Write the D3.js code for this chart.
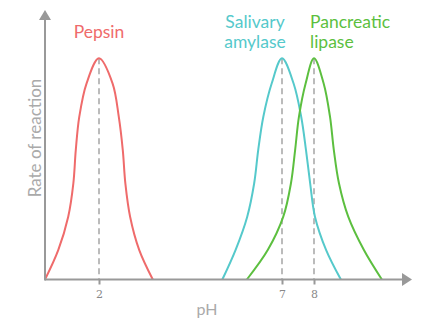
<!DOCTYPE html>
<html>
<head>
<meta charset="utf-8">
<script src="https://cdn.jsdelivr.net/npm/d3@7"></script>
<style>
  html, body { margin: 0; padding: 0; background: #ffffff; }
  svg { display: block; }
</style>
</head>
<body>
<div id="chart"></div>
<script>
// ---- data ----
const enzymes = ["Pepsin", "Salivary amylase", "Pancreatic lipase"];
const optimumPH = [2, 7, 8];
const tickLabels = ["2", "7", "8"];

// curve samples [pH, relative rate]
const pepsinCurve = [
  [0, 0], [0.49, 13.3], [0.86, 28.4], [1.05, 43.5], [1.14, 58.5], [1.27, 73.6], [1.54, 88.7], [2, 100],
  [2.37, 88.7], [2.54, 73.6], [2.65, 58.5], [2.72, 43.5], [2.85, 28.4], [3.10, 13.3], [3.47, 0]
];
const amylaseCurve = [
  [5.37, 0], [5.73, 13.3], [6.05, 28.4], [6.24, 43.5], [6.35, 58.5], [6.49, 73.6], [6.72, 88.7], [7, 100],
  [7.36, 88.7], [7.60, 73.6], [7.75, 58.5], [7.88, 43.5], [8.03, 28.4], [8.38, 13.3], [8.84, 0]
];
const lipaseCurve = [
  [6.04, 0], [6.61, 13.3], [7.04, 28.4], [7.28, 43.5], [7.41, 58.5], [7.53, 73.6], [7.74, 88.7], [8, 100],
  [8.30, 88.7], [8.50, 73.6], [8.62, 58.5], [8.78, 43.5], [9.07, 28.4], [9.56, 13.3], [10.12, 0]
];
const curves = [pepsinCurve, amylaseCurve, lipaseCurve];
const colors = ["#ef6b6b", "#55c9cb", "#5cbf3f"];

// ---- layout ----
const W = 421, H = 326;
const svg = d3.select("#chart").append("svg").attr("width", W).attr("height", H);

// schematic (non-uniform) pH axis
const x = d3.scaleLinear().domain([0, 2, 7, 8, 11]).range([45, 99, 282, 314, 410]);
const y = d3.scaleLinear().domain([0, 100]).range([279.5, 58.3]);

const axisColor = "#999999";
const font = "Lato, 'Open Sans', sans-serif";

// dashed optimum lines
svg.selectAll("line.opt").data(optimumPH).enter().append("line")
  .attr("class", "opt")
  .attr("x1", d => x(d)).attr("x2", d => x(d))
  .attr("y1", y(100)).attr("y2", y(0))
  .attr("stroke", "#bbbbbb").attr("stroke-width", 2)
  .attr("stroke-dasharray", "6,4");

// curves
const line = d3.line().x(d => x(d[0])).y(d => y(d[1])).curve(d3.curveCatmullRom.alpha(0.5));
svg.selectAll("path.curve").data(curves).enter().append("path")
  .attr("class", "curve")
  .attr("d", d => line(d))
  .attr("fill", "none")
  .attr("stroke", (d, i) => colors[i])
  .attr("stroke-width", 2);

// axes
svg.append("line").attr("x1", 45).attr("x2", 403).attr("y1", y(0)).attr("y2", y(0))
  .attr("stroke", axisColor).attr("stroke-width", 2);
svg.append("path").attr("d", `M402,${y(0) - 6.5} L412,${y(0)} L402,${y(0) + 6.5} Z`).attr("fill", axisColor);
svg.append("line").attr("x1", 45).attr("x2", 45).attr("y1", 19).attr("y2", y(0) + 1)
  .attr("stroke", axisColor).attr("stroke-width", 2);
svg.append("path").attr("d", `M39,20 L45,10 L51,20 Z`).attr("fill", axisColor);

// ticks
const xAxis = d3.axisBottom(x).tickValues(optimumPH).tickFormat((d, i) => tickLabels[i])
  .tickSize(5).tickPadding(6);
const gx = svg.append("g").attr("transform", `translate(0,${y(0)})`).call(xAxis);
gx.select(".domain").remove();
gx.selectAll(".tick line").attr("stroke", axisColor).attr("stroke-width", 2);
gx.selectAll(".tick text").attr("fill", "#888888")
  .style("font-family", "'DejaVu Serif', 'Liberation Serif', serif").style("font-size", "11px");

// axis titles
svg.append("text").attr("x", 207).attr("y", 314.5).attr("text-anchor", "middle")
  .style("font-family", font).style("font-size", "16px").attr("fill", "#aaaaaa").text("pH");
svg.append("text").attr("transform", "translate(41,138) rotate(-90)").attr("text-anchor", "middle")
  .style("font-family", font).style("font-size", "17px").attr("fill", "#aaaaaa").text("Rate of reaction");

// enzyme labels
const labelSpec = [
  { lines: ["Pepsin"], x: 99, anchor: "middle", y0: 38 },
  { lines: ["Salivary", "amylase"], x: 255, anchor: "middle", y0: 28.3 },
  { lines: ["Pancreatic", "lipase"], x: 310, anchor: "start", y0: 28.3 }
];
labelSpec.forEach((s, i) => {
  const t = svg.append("text").attr("text-anchor", s.anchor)
    .style("font-family", font).style("font-size", "17.5px").attr("fill", colors[i]);
  s.lines.forEach((ln, j) => {
    t.append("tspan").attr("x", s.x).attr("y", s.y0 + j * 20).text(ln);
  });
});
</script>
</body>
</html>
